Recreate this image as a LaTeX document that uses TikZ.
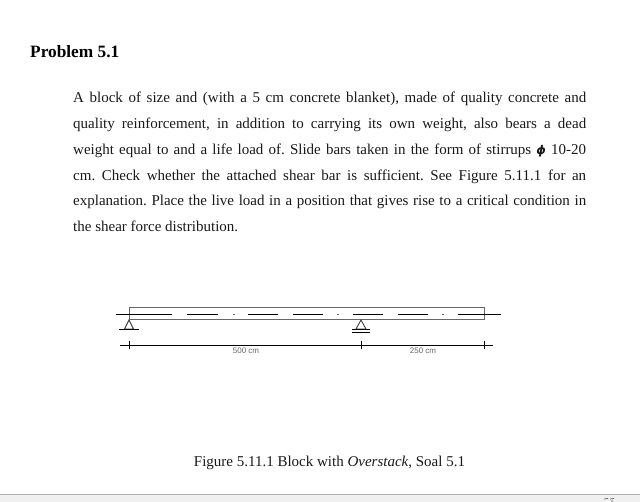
\documentclass[tikz,border=0pt]{standalone}
\usepackage{fontspec}
\setmainfont{Liberation Serif}
\newfontfamily\dimfont{Liberation Sans}
\newfontfamily\phifont{DejaVu Sans}
\tikzset{beamline/.style={draw=black!60,line width=1pt},
         axisline/.style={black,line width=0.8pt},
         supportline/.style={black,line width=0.9pt},
         dimlabel/.style={font=\dimfont\fontsize{8}{9}\selectfont,text=black!60,inner sep=0pt},
         bodytext/.style={font=\frenchspacing\fontsize{15}{25.8}\selectfont,text=black!90,inner sep=0pt,anchor=north west,text width=513pt,align=justify}}

\begin{document}
\begin{tikzpicture}[x=1pt,y=-1pt]
       \useasboundingbox (0,0) rectangle (640,502);
       \node[inner sep=0pt,anchor=west,font=\bfseries\fontsize{17.3}{19}\selectfont] (title) at (30,52) {Problem 5.1};
       \node[bodytext] (body) at (73,92) {A block of size and (with a 5 cm concrete blanket), made of quality concrete and\linebreak
        quality reinforcement, in addition to carrying its own weight, also bears a dead\linebreak
        weight equal to and a life load of. Slide bars taken in the form of stirrups {\phifont\itshape\bfseries\fontsize{12}{12}\selectfont ϕ} 10-20\linebreak
        cm. Check whether the attached shear bar is sufficient. See Figure 5.11.1 for an\linebreak
        explanation. Place the live load in a position that gives rise to a critical condition in\linebreak
        the shear force distribution.};
       % beam and centre line
       \coordinate (beamNW) at (129,308);
       \coordinate (beamSE) at (484,320);
       \draw[beamline] (beamNW) rectangle (beamSE);
       \foreach \xa/\xb in {116/172,187/218,248/278,293/323,353/383,398/428,458/501}
        \draw[axisline] (\xa,314) -- (\xb,314);
       \foreach \xa in {234,338,443}
        \draw[axisline,black!60] (\xa-0.6,314) -- (\xa+0.6,314);
       % supports
       \coordinate (supA) at (129,320);
       \coordinate (supB) at (361,320);
       \draw[supportline,black!75] (supA) -- ++(-4.5,9) -- ++(9,0) -- cycle;
       \draw[supportline] (119,329.5) -- (139,329.5);
       \draw[supportline,black!75] (supB) -- ++(-5,9) -- ++(10,0) -- cycle;
       \draw[supportline] (352,329) -- (370,329);
       \draw[supportline] (352,332.5) -- (370,332.5);
       % dimension line
       \coordinate (dimL) at (120,345);
       \coordinate (dimR) at (493,345);
       \draw[axisline] (dimL) -- (dimR);
       \foreach \xa in {129,361,484}
        \draw[axisline] (\xa,341) -- (\xa,349);
       \node[dimlabel] (dimA) at (246,351) {500 cm};
       \node[dimlabel] (dimB) at (423,351) {250 cm};
       \node[inner sep=0pt,font=\fontsize{15}{17}\selectfont,text=black!90] (caption) at (329.5,463) {Figure 5.11.1 Block with \emph{Overstack}, Soal 5.1};
       % window bar at the bottom
       \fill[black!6] (0,494) rectangle (640,502);
       \draw[black!30,line width=0.8pt] (0,494) -- (640,494);
       \draw[black!65,line width=0.7pt] (604,499) -- (608,498.5) (610,499) -- (614,498.5) (611,501) -- (613,501);
\end{tikzpicture}
\end{document}
